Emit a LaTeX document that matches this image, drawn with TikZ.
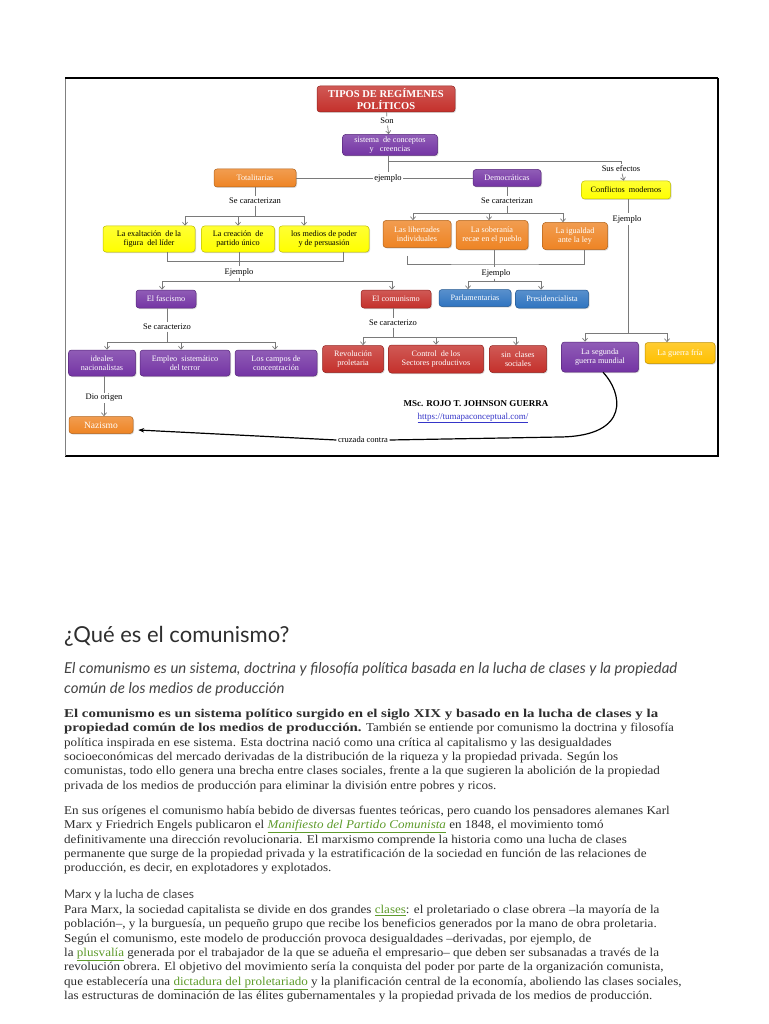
\documentclass[tikz,border=0pt]{standalone}
\usepackage{fontspec}
\setmainfont{Liberation Serif}
\newfontfamily\latofont{Lato}
\newfontfamily\bodyfont[FakeStretch=1.09, BoldFeatures={FakeStretch=1.24}]{Liberation Serif}
\usetikzlibrary{arrows.meta,calc,positioning,shadows}
\definecolor{mapred}{HTML}{C4302B}
\definecolor{mappurple}{HTML}{7434A4}
\definecolor{maporange}{HTML}{EE8424}
\definecolor{mapyellow}{HTML}{FFFF00}
\definecolor{mapgold}{HTML}{FFC000}
\definecolor{mapblue}{HTML}{2F74C0}
\definecolor{mapline}{HTML}{7A7A7A}
\definecolor{mapurl}{HTML}{3535C8}
\definecolor{pageink}{HTML}{2E2E2E}
\definecolor{pagegray}{HTML}{444444}
\definecolor{pagelink}{HTML}{5E9B2B}
\tikzset{
  map box/.style={rounded corners=3pt, draw=#1!75!black, line width=.5pt,
    top color=#1!80!white, bottom color=#1, text=white, align=center,
    font=\fontsize{8.2}{9.6}\selectfont, inner sep=1pt,
    drop shadow={opacity=.3, shadow xshift=1pt, shadow yshift=-1pt}},
  map label/.style={font=\fontsize{8.5}{10}\selectfont, inner sep=1.5pt},
  map link/.style={draw=mapline, line width=.7pt},
  map arrow/.style={map link, -{Straight Barb[length=3pt,width=5pt]}},
  cross link/.style={draw=black, line width=1.2pt},
  cross arrow/.style={cross link, -{Stealth[length=6pt,width=4.5pt]}},
  body text/.style={anchor=north west, inner sep=0pt, align=left, text=pageink,
    font=\bodyfont\fontsize{12}{14.4}\selectfont},
  web link/.style={text=pagelink}
}

\begin{document}
\begin{tikzpicture}[x=1pt, y=-1pt]
  \fill[white] (0,0) rectangle (768,1024);
  \useasboundingbox (0,0) rectangle (768,1024);

  % marco del mapa
  \draw[line width=1.5pt] (718,78) -- (718,456) -- (65,456);
  \draw[gray, line width=1pt] (65,78) -- (65,456);
  \draw[line width=2.5pt] (65,78) -- (718,78);

  % cabecera
  \node[map box=mapred, minimum width=138pt, minimum height=26pt,
    font=\bfseries\fontsize{10.5}{11.5}\selectfont] (title) at (386,99) {TIPOS DE REGÍMENES\\POLÍTICOS};
  \node[map label] (son) at (387,121) {Son};
  \node[map box=mappurple, minimum width=95pt, minimum height=21pt] (sistema) at (390,145) {sistema \ de conceptos\\y \ \ creencias};
  \node[map label] (ejemplo) at (388,178) {ejemplo};
  \node[map box=maporange, minimum width=82pt, minimum height=18pt] (totalitarias) at (255,178) {Totalitarias};
  \node[map box=mappurple, minimum width=68pt, minimum height=17pt] (democraticas) at (507,178) {Democráticas};
  \node[map label] (efectos) at (621,169) {Sus efectos};
  \node[map box=mapyellow, text=black, minimum width=89pt, minimum height=18pt] (conflictos) at (626,190) {Conflictos \ modernos};
  \coordinate (efork) at (388,161);

  \draw[map link] (title) -- (son);
  \draw[map arrow] (son) -- (sistema);
  \draw[map link] (sistema.south -| ejemplo.north) -- (ejemplo.north);
  \draw[map link] (totalitarias) -- (ejemplo);
  \draw[map link] (ejemplo) -- (democraticas);
  \draw[map link] (efork) -| (efectos.north);
  \draw[map arrow] (efectos) -- (conflictos);

  % totalitarias
  \node[map label] (tsc) at (255,201) {Se caracterizan};
  \node[map box=mapyellow, text=black, minimum width=92pt, minimum height=26pt] (lider) at (149,239) {La exaltación \ de la\\figura \ del líder};
  \node[map box=mapyellow, text=black, minimum width=73pt, minimum height=26pt] (partido) at (238,239) {La creación \ de\\partido único};
  \node[map box=mapyellow, text=black, minimum width=90pt, minimum height=26pt] (medios) at (324,239) {los medios de poder\\y de persuasión};
  \coordinate (tfork) at (255,216);
  \draw[map link] (totalitarias) -- (tsc);
  \draw[map link] (tsc) -- (tfork);
  \draw[map arrow] (tfork) -| ([xshift=36pt]lider.north);
  \draw[map arrow] (tfork) -| (partido.north);
  \draw[map arrow] (tfork) -| ([xshift=-20pt]medios.south |- medios.north);
  \draw[map link] ([xshift=18pt]lider.south) -- ++(0,9) -| ([xshift=19pt]medios.south);

  \node[map label] (tej) at (239,272) {Ejemplo};
  \node[map box=mappurple, minimum width=60pt, minimum height=18pt] (fascismo) at (166,299) {El fascismo};
  \node[map box=mapred, minimum width=70pt, minimum height=18pt] (comunismo) at (396,299) {El comunismo};
  \coordinate (tejfork) at (239,281);
  \draw[map link] (partido.south -| tej.north) -- (tej.north);
  \draw[map link] (tej) -- (tejfork);
  \draw[map arrow] (tejfork) -| ([xshift=-4pt]fascismo.north);
  \draw[map arrow] (tejfork) -| ([xshift=-4pt]comunismo.north);

  % fascismo
  \node[map label] (fsc) at (167,327) {Se caracterizo};
  \node[map box=mappurple, minimum width=67pt, minimum height=26pt] (ideales) at (102,363) {ideales\\nacionalistas};
  \node[map box=mappurple, minimum width=90pt, minimum height=26pt] (terror) at (185,363) {Empleo \ sistemático\\del terror};
  \node[map box=mappurple, minimum width=82pt, minimum height=26pt] (campos) at (276,363) {Los campos de\\concentración};
  \coordinate (ffork) at (167,342);
  \draw[map link] (fascismo.south -| fsc.north) -- (fsc.north);
  \draw[map link] (fsc) -- (ffork);
  \draw[map arrow] (ffork) -| ([xshift=5pt]ideales.north);
  \draw[map arrow] (ffork) -| ([xshift=-4pt]terror.north);
  \draw[map arrow] (ffork) -| ([xshift=-1pt]campos.north);

  \node[map label] (origen) at (104,398) {Dio origen};
  \node[map box=maporange, minimum width=64pt, minimum height=17pt,
    font=\fontsize{9.5}{10}\selectfont] (nazismo) at (101,425) {Nazismo};
  \draw[map link] (ideales.south -| origen.north) -- (origen.north);
  \draw[map arrow] (origen) -- (origen |- nazismo.north);

  % comunismo
  \node[map label] (csc) at (393,323) {Se caracterizo};
  \node[map box=mapred, minimum width=61pt, minimum height=27pt] (revolucion) at (353,359) {Revolución\\proletaria};
  \node[map box=mapred, minimum width=95pt, minimum height=28pt] (control) at (436,359) {Control \ de los\\Sectores productivos};
  \node[map box=mapred, minimum width=57pt, minimum height=27pt] (clases) at (518,359) {sin \ clases\\sociales};
  \coordinate (cfork) at (393,337);
  \draw[map link] (comunismo.south -| csc.north) -- (csc.north);
  \draw[map link] (csc) -- (cfork);
  \draw[map arrow] (cfork) -| ([xshift=10pt]revolucion.north);
  \draw[map arrow] (cfork) -| (control.north);
  \draw[map arrow] (cfork) -| ([xshift=-2pt]clases.north);

  % democraticas
  \node[map label] (dsc) at (507,201) {Se caracterizan};
  \node[map box=maporange, minimum width=68pt, minimum height=27pt] (libertades) at (417,234) {Las libertades\\individuales};
  \node[map box=maporange, minimum width=72pt, minimum height=29pt] (soberania) at (492,235) {La soberanía\\recae en el pueblo};
  \node[map box=maporange, minimum width=65pt, minimum height=27pt] (igualdad) at (575,236) {La igualdad\\ante la ley};
  \coordinate (dfork) at (507,213);
  \draw[map link] (democraticas) -- (dsc);
  \draw[map link] (dsc) -- (dfork);
  \draw[map arrow] (dfork) -| ([xshift=-4pt]libertades.north);
  \draw[map arrow] (dfork) -| ([xshift=-3pt]soberania.north);
  \draw[map arrow] (dfork) -| ([xshift=-12pt]igualdad.north);
  \draw[map link] ([xshift=-10pt]libertades.south) ++(0,8) |- (494,264) -| ([xshift=9pt]igualdad.south) ++(0,6);

  \node[map label] (dej) at (496,273) {Ejemplo};
  \node[map box=mapblue, minimum width=72pt, minimum height=17pt] (parlamentarias) at (475,298) {Parlamentarias};
  \node[map box=mapblue, minimum width=73pt, minimum height=18pt] (presidencialista) at (552,299) {Presidencialista};
  \coordinate (dejfork) at (494,281);
  \draw[map link] (soberania.south -| dejfork) -- (dej.north -| dejfork);
  \draw[map link] (dej.south -| dejfork) -- (dejfork);
  \draw[map arrow] (dejfork) -| ([xshift=-7pt]parlamentarias.north);
  \draw[map arrow] (dejfork) -| ([xshift=-11pt]presidencialista.north);

  % conflictos modernos
  \node[map label] (cej) at (627,219) {Ejemplo};
  \node[map box=mappurple, minimum width=77pt, minimum height=30pt] (segunda) at (600,357) {La segunda\\guerra mundial};
  \node[map box=mapgold, minimum width=70pt, minimum height=21pt] (fria) at (680,353) {La guerra fría};
  \coordinate (gfork) at (628,333);
  \draw[map link] (conflictos.south -| gfork) -- (cej.north -| gfork);
  \draw[map link] (cej.south -| gfork) -- (gfork);
  \draw[map arrow] (gfork) -| ([xshift=-15pt]segunda.north);
  \draw[map arrow] (gfork) -| ([xshift=-13pt]fria.north);

  % autor y cruzada
  \node[font=\bfseries\fontsize{9}{10}\selectfont] (autor) at (476,404) {MSc. ROJO T. JOHNSON GUERRA};
  \node[text=mapurl, font=\fontsize{9}{10}\selectfont] (url) at (473,418) {\underline{https://tumapaconceptual.com/}};
  \node[map label] (cruzada) at (363,440) {cruzada contra};
  \draw[cross link] ([xshift=3pt]segunda.south) .. controls (622,392) and (632,436) .. (560,437) -- (cruzada.east);
  \draw[cross arrow] (cruzada.west) -- ([xshift=5pt,yshift=-5pt]nazismo.east);

  % texto de la pagina
  \node[anchor=base west, inner sep=0pt, text=pageink, font=\latofont\fontsize{22}{26}\selectfont] (pregunta) at (64,642) {¿Qué es el comunismo?};
  \node[anchor=north west, inner sep=0pt, align=left, text=pagegray,
    font=\latofont\itshape\fontsize{15}{20}\selectfont] (entrada) at (64,659)
    {\strut El comunismo es un sistema, doctrina y filosofía política basada en la lucha de clases y la propiedad\\común de los medios de producción};
  \node[body text] (parrafo1) at (64,707) {\strut\textbf{El comunismo es un sistema político surgido en el siglo XIX y basado en la lucha de clases y la}\\
    \textbf{propiedad común de los medios de producción.} También se entiende por comunismo la doctrina y filosofía\\
    política inspirada en ese sistema. Esta doctrina nació como una crítica al capitalismo y las desigualdades\\
    socioeconómicas del mercado derivadas de la distribución de la riqueza y la propiedad privada. Según los\\
    comunistas, todo ello genera una brecha entre clases sociales, frente a la que sugieren la abolición de la propiedad\\
    privada de los medios de producción para eliminar la división entre pobres y ricos.};
  \node[body text] (parrafo2) at (64,804) {\strut En sus orígenes el comunismo había bebido de diversas fuentes teóricas, pero cuando los pensadores alemanes Karl\\
    Marx y Friedrich Engels publicaron el {\color{pagelink}\underline{\itshape Manifiesto del Partido Comunista}} en 1848, el movimiento tomó\\
    definitivamente una dirección revolucionaria. El marxismo comprende la historia como una lucha de clases\\
    permanente que surge de la propiedad privada y la estratificación de la sociedad en función de las relaciones de\\
    producción, es decir, en explotadores y explotados.};
  \node[anchor=base west, inner sep=0pt, text=pagegray, font=\latofont\fontsize{12}{14}\selectfont] (subtitulo) at (64,898) {Marx y la lucha de clases};
  \node[body text] (parrafo3) at (64,903) {\strut Para Marx, la sociedad capitalista se divide en dos grandes {\color{pagelink}\underline{clases}}: el proletariado o clase obrera –la mayoría de la\\
    población–, y la burguesía, un pequeño grupo que recibe los beneficios generados por la mano de obra proletaria.\\
    Según el comunismo, este modelo de producción provoca desigualdades –derivadas, por ejemplo, de\\
    la {\color{pagelink}\underline{plusvalía}} generada por el trabajador de la que se adueña el empresario– que deben ser subsanadas a través de la\\
    revolución obrera. El objetivo del movimiento sería la conquista del poder por parte de la organización comunista,\\
    que establecería una {\color{pagelink}\underline{dictadura del proletariado}} y la planificación central de la economía, aboliendo las clases sociales,\\
    las estructuras de dominación de las élites gubernamentales y la propiedad privada de los medios de producción.};
\end{tikzpicture}
\end{document}
